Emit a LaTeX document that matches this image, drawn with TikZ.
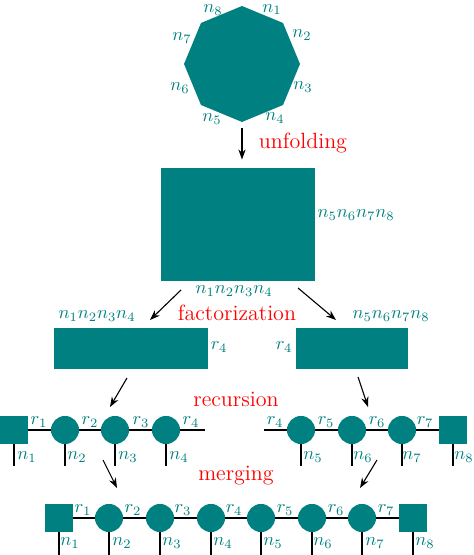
\documentclass[tikz,border=0pt]{standalone}
\usetikzlibrary{shapes.geometric,arrows.meta}
\definecolor{tealc}{rgb}{0,0.5,0.5}
\begin{document}
\begin{tikzpicture}[x=0.545pt,y=0.545pt,
  blk/.style={fill=tealc,draw=none,inner sep=0pt},
  rect/.style={blk,rectangle},
  circ/.style={blk,circle,minimum size=15.3pt},
  sq/.style={blk,rectangle,minimum size=15.3pt},
  lab/.style={text=tealc,inner sep=0pt},
  act/.style={text=red,font=\large,inner sep=0pt},
  arr/.style={-{Stealth[length=5.5pt,width=4pt]},line width=0.6pt},
  bond/.style={line width=0.8pt}]
\useasboundingbox (0,0) rectangle (474,555);

% octagon
\node[blk,regular polygon,regular polygon sides=8,shape border rotate=22.5,minimum size=63.2pt] (oct) at (242,491) {};
\node[lab] (o1) at (272,545.5) {$n_1$};
\node[lab] (o2) at (302,520) {$n_2$};
\node[lab] (o3) at (303,468) {$n_3$};
\node[lab] (o4) at (275,437) {$n_4$};
\node[lab] (o5) at (212,436) {$n_5$};
\node[lab] (o6) at (180,467) {$n_6$};
\node[lab] (o7) at (182,517) {$n_7$};
\node[lab] (o8) at (213,545) {$n_8$};

% big matrix
\node[rect,minimum width=83.4pt,minimum height=61.6pt] (big) at (238,330.5) {};
\draw[arr,shorten <=3.3pt,shorten >=4.4pt] (oct) -- (oct |- big.north);
\node[act] (tunf) at (303,412) {unfolding};
\node[lab] (bigr) at (356,340) {$n_5n_6n_7n_8$};
\node[lab] (bigb) at (234,264) {$n_1n_2n_3n_4$};

% factorization
\node[rect,minimum width=83.9pt,minimum height=22.3pt] (L) at (131,206.5) {};
\node[rect,minimum width=61pt,minimum height=22.3pt] (R) at (352,206.5) {};
\coordinate (fa1) at (181,265);
\coordinate (fa2) at (150,235);
\coordinate (fb1) at (298,267);
\coordinate (fb2) at (336,235);
\draw[arr] (fa1) -- (fa2);
\draw[arr] (fb1) -- (fb2);
\node[act] (tfac) at (237,242) {factorization};
\node[lab] (Lt) at (97,239) {$n_1n_2n_3n_4$};
\node[lab] (Lr) at (219,208) {$r_4$};
\node[lab] (Rl) at (284,208) {$r_4$};
\node[lab] (Rt) at (391,239) {$n_5n_6n_7n_8$};

% recursion
\coordinate (ra1) at (127,177);
\coordinate (ra2) at (110,148);
\coordinate (rb1) at (358,178);
\coordinate (rb2) at (368,148);
\draw[arr] (ra1) -- (ra2);
\draw[arr] (rb1) -- (rb2);
\node[act] (trec) at (236,156) {recursion};

% left chain
\node[sq] (A1) at (14,125) {};
\node[circ] (A2) at (65,125) {};
\node[circ] (A3) at (115,125) {};
\node[circ] (A4) at (166,125) {};
\coordinate (Aend) at (205,125);
\draw[bond] (A1) -- (A2) -- (A3) -- (A4) -- (Aend);
\foreach \i/\x in {1/14,2/65,3/115,4/166}{
  \coordinate (a\i) at (\x,89);
  \draw[bond] (A\i) -- (a\i);
}
\node[lab] (Ar1) at (39,133) {$r_1$};
\node[lab] (Ar2) at (90,133) {$r_2$};
\node[lab] (Ar3) at (141,133) {$r_3$};
\node[lab] (Ar4) at (191,133) {$r_4$};
\node[lab] (An1) at (27,98) {$n_1$};
\node[lab] (An2) at (77,98) {$n_2$};
\node[lab] (An3) at (128,98) {$n_3$};
\node[lab] (An4) at (179,98) {$n_4$};

% right chain
\coordinate (Bstart) at (264,125);
\node[circ] (B5) at (301,125) {};
\node[circ] (B6) at (352,125) {};
\node[circ] (B7) at (402,125) {};
\node[sq] (B8) at (453,125) {};
\draw[bond] (Bstart) -- (B5) -- (B6) -- (B7) -- (B8);
\foreach \i/\x in {5/301,6/352,7/402,8/453}{
  \coordinate (b\i) at (\x,89);
  \draw[bond] (B\i) -- (b\i);
}
\node[lab] (Br4) at (275,133) {$r_4$};
\node[lab] (Br5) at (326,133) {$r_5$};
\node[lab] (Br6) at (377,133) {$r_6$};
\node[lab] (Br7) at (425,133) {$r_7$};
\node[lab] (Bn5) at (313,98) {$n_5$};
\node[lab] (Bn6) at (363,98) {$n_6$};
\node[lab] (Bn7) at (412,98) {$n_7$};
\node[lab] (Bn8) at (464,98) {$n_8$};

% merging
\coordinate (ma1) at (103,95);
\coordinate (ma2) at (117,67);
\coordinate (mb1) at (377,95);
\coordinate (mb2) at (360,67);
\draw[arr] (ma1) -- (ma2);
\draw[arr] (mb1) -- (mb2);
\node[act] (tmer) at (236,79) {merging};

% bottom chain
\node[sq] (C1) at (59,37) {};
\node[circ] (C2) at (109,37) {};
\node[circ] (C3) at (160,37) {};
\node[circ] (C4) at (211,37) {};
\node[circ] (C5) at (261,37) {};
\node[circ] (C6) at (312,37) {};
\node[circ] (C7) at (362,37) {};
\node[sq] (C8) at (413,37) {};
\draw[bond] (C1) -- (C2) -- (C3) -- (C4) -- (C5) -- (C6) -- (C7) -- (C8);
\foreach \i/\x in {1/59,2/109,3/160,4/211,5/261,6/312,7/362,8/413}{
  \coordinate (c\i) at (\x,0);
  \draw[bond] (C\i) -- (c\i);
}
\foreach \i/\x in {1/83,2/133,3/183,4/234,5/285,6/336,7/386}{
  \node[lab] (Cr\i) at (\x,45) {$r_{\i}$};
}
\foreach \i/\x in {1/70,2/122,3/172,4/223,5/273,6/323,7/375,8/425}{
  \node[lab] (Cn\i) at (\x,12) {$n_{\i}$};
}
\end{tikzpicture}
\end{document}
